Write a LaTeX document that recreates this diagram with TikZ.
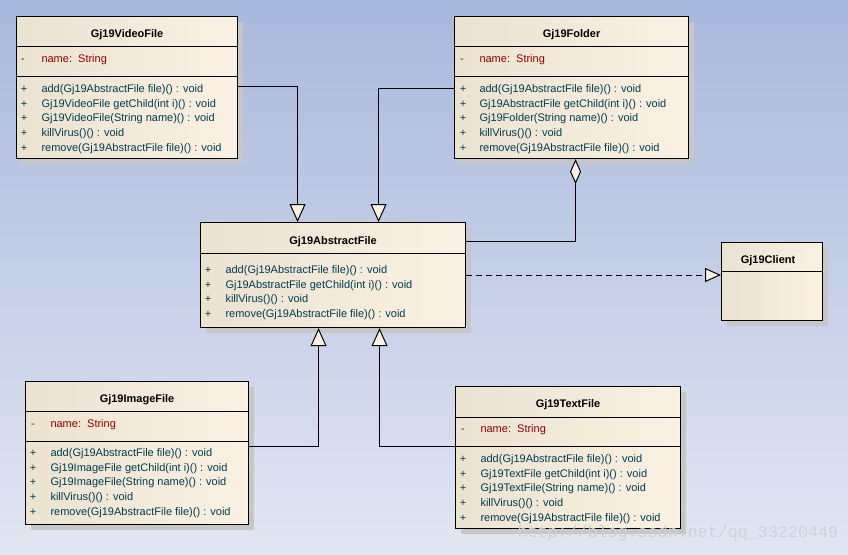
\documentclass[tikz,border=0pt]{standalone}
\usepackage{fontspec}
\setmainfont{Liberation Sans}
\setmonofont{Liberation Mono}
\usetikzlibrary{arrows.meta,calc,shadows}

\definecolor{bgtop}{RGB}{168,184,221}
\definecolor{bgbot}{RGB}{226,230,242}
\definecolor{clsL}{RGB}{236,226,208}
\definecolor{clsR}{RGB}{251,241,226}
\definecolor{attrcol}{RGB}{140,0,0}
\definecolor{methcol}{RGB}{0,60,80}
\definecolor{markcol}{RGB}{206,209,218}

\begin{document}
\begin{tikzpicture}[x=1pt, y=-1pt, line width=1pt,
    cls/.style = {draw, line width=1.1pt, anchor=north west, inner sep=0pt,
        left color=clsL, right color=clsR,
        drop shadow={shadow xshift=5pt, shadow yshift=-5pt, fill=black!22, opacity=1}},
    title/.style = {font=\fontsize{11}{13}\selectfont\bfseries, inner sep=0pt, yshift=-2pt},
    attr/.style = {font=\fontsize{11}{13}\selectfont, inner sep=0pt, text height=8pt, text depth=2.5pt, text=attrcol, yshift=-1.8pt},
    meth/.style = {font=\fontsize{11}{13}\selectfont, inner sep=0pt, text height=8pt, text depth=2.5pt, text=methcol, yshift=-1.6pt},
    gen/.style = {-{Triangle[length=18pt, width=16pt, fill=clsR]}},
    agg/.style = {{Diamond[length=25pt, width=11pt, fill=clsR]}-},
    dep/.style = {dash pattern=on 6pt off 4pt, -{Triangle[length=16pt, width=14pt, fill=clsR]}}]

    % sfondo
    \path[use as bounding box, top color=bgtop, bottom color=bgbot] (0,0) rectangle (848,554);

    % le classi
    \node[cls, minimum width=221pt, minimum height=142pt] (video) at (16,16) {};
    \node[cls, minimum width=234pt, minimum height=142pt] (folder) at (454,16) {};
    \node[cls, minimum width=265pt, minimum height=105pt] (abstract) at (200,222) {};
    \node[cls, minimum width=101pt, minimum height=78pt] (client) at (721,242) {};
    \node[cls, minimum width=223pt, minimum height=143pt] (image) at (25,381) {};
    \node[cls, minimum width=225pt, minimum height=142pt] (text) at (455,386) {};

    % Gj19VideoFile
    \node[title] (video-t) at ($(video.north)+(0,17)$) {Gj19VideoFile};
    \draw ($(video.north west)+(0,30)$) -- ($(video.north east)+(0,30)$);
    \node[attr] (video-v) at ($(video.north west)+(7,42)$) {-};
    \node[attr, anchor=west] (video-a) at ($(video.north west)+(25,42)$) {name:\ \ String};
    \draw ($(video.north west)+(0,60)$) -- ($(video.north east)+(0,60)$);
    \foreach \m [count=\i] in {{add(Gj19AbstractFile file)() : void}, {Gj19VideoFile getChild(int i)() : void},
        {Gj19VideoFile(String name)() : void}, {killVirus()() : void}, {remove(Gj19AbstractFile file)() : void}} {
        \node[meth] (video-p\i) at ($(video.north west)+(8,{72+14.8*(\i-1)})$) {+};
        \node[meth, anchor=west] (video-m\i) at ($(video.north west)+(25,{72+14.8*(\i-1)})$) {\m};
    }

    % Gj19Folder
    \node[title] (folder-t) at ($(folder.north)+(0,17)$) {Gj19Folder};
    \draw ($(folder.north west)+(0,30)$) -- ($(folder.north east)+(0,30)$);
    \node[attr] (folder-v) at ($(folder.north west)+(8,42)$) {-};
    \node[attr, anchor=west] (folder-a) at ($(folder.north west)+(25,42)$) {name:\ \ String};
    \draw ($(folder.north west)+(0,60)$) -- ($(folder.north east)+(0,60)$);
    \foreach \m [count=\i] in {{add(Gj19AbstractFile file)() : void}, {Gj19AbstractFile getChild(int i)() : void},
        {Gj19Folder(String name)() : void}, {killVirus()() : void}, {remove(Gj19AbstractFile file)() : void}} {
        \node[meth] (folder-p\i) at ($(folder.north west)+(9,{72+14.8*(\i-1)})$) {+};
        \node[meth, anchor=west] (folder-m\i) at ($(folder.north west)+(25,{72+14.8*(\i-1)})$) {\m};
    }

    % Gj19AbstractFile
    \node[title] (abstract-t) at ($(abstract.north)+(0,18)$) {Gj19AbstractFile};
    \draw ($(abstract.north west)+(0,31)$) -- ($(abstract.north east)+(0,31)$);
    \foreach \m [count=\i] in {{add(Gj19AbstractFile file)() : void}, {Gj19AbstractFile getChild(int i)() : void},
        {killVirus()() : void}, {remove(Gj19AbstractFile file)() : void}} {
        \node[meth] (abstract-p\i) at ($(abstract.north west)+(8,{47+14.8*(\i-1)})$) {+};
        \node[meth, anchor=west] (abstract-m\i) at ($(abstract.north west)+(25,{47+14.8*(\i-1)})$) {\m};
    }

    % Gj19Client
    \node[title] (client-t) at ($(client.north)+(-4,17)$) {Gj19Client};
    \draw ($(client.north west)+(0,29)$) -- ($(client.north east)+(0,29)$);

    % Gj19ImageFile
    \node[title] (image-t) at ($(image.north)+(0,17)$) {Gj19ImageFile};
    \draw ($(image.north west)+(0,30)$) -- ($(image.north east)+(0,30)$);
    \node[attr] (image-v) at ($(image.north west)+(8,42)$) {-};
    \node[attr, anchor=west] (image-a) at ($(image.north west)+(25,42)$) {name:\ \ String};
    \draw ($(image.north west)+(0,60)$) -- ($(image.north east)+(0,60)$);
    \foreach \m [count=\i] in {{add(Gj19AbstractFile file)() : void}, {Gj19ImageFile getChild(int i)() : void},
        {Gj19ImageFile(String name)() : void}, {killVirus()() : void}, {remove(Gj19AbstractFile file)() : void}} {
        \node[meth] (image-p\i) at ($(image.north west)+(8,{71+14.8*(\i-1)})$) {+};
        \node[meth, anchor=west] (image-m\i) at ($(image.north west)+(25,{71+14.8*(\i-1)})$) {\m};
    }

    % Gj19TextFile
    \node[title] (text-t) at ($(text.north)+(0,17)$) {Gj19TextFile};
    \draw ($(text.north west)+(0,31)$) -- ($(text.north east)+(0,31)$);
    \node[attr] (text-v) at ($(text.north west)+(8,42)$) {-};
    \node[attr, anchor=west] (text-a) at ($(text.north west)+(25,42)$) {name:\ \ String};
    \draw ($(text.north west)+(0,60)$) -- ($(text.north east)+(0,60)$);
    \foreach \m [count=\i] in {{add(Gj19AbstractFile file)() : void}, {Gj19TextFile getChild(int i)() : void},
        {Gj19TextFile(String name)() : void}, {killVirus()() : void}, {remove(Gj19AbstractFile file)() : void}} {
        \node[meth] (text-p\i) at ($(text.north west)+(8,{72+14.8*(\i-1)})$) {+};
        \node[meth, anchor=west] (text-m\i) at ($(text.north west)+(25,{72+14.8*(\i-1)})$) {\m};
    }

    % le relazioni
    \draw[gen] ($(video.north east)+(0,70)$) -| ([xshift=-35.5pt]abstract.north);
    \draw[gen] ($(folder.north west)+(0,72)$) -| ([xshift=45.5pt]abstract.north);
    \draw[agg] ([xshift=4pt]folder.south) |- ($(abstract.north east)+(0,19)$);
    \draw[dep] ($(abstract.north east)+(0,53)$) -- ($(client.north west)+(0,33)$);
    \draw[gen] ($(image.north east)+(0,65)$) -| ([xshift=-14.5pt]abstract.south);
    \draw[gen] ($(text.north west)+(0,60)$) -| ([xshift=46.5pt]abstract.south);

    % filigrana
    \node[font=\ttfamily\fontsize{16.7}{18}\selectfont, text=markcol, anchor=west, inner sep=0pt] (mark) at (517,533) {http://blog.csdn.net/qq\_33220449};

\end{tikzpicture}
\end{document}
